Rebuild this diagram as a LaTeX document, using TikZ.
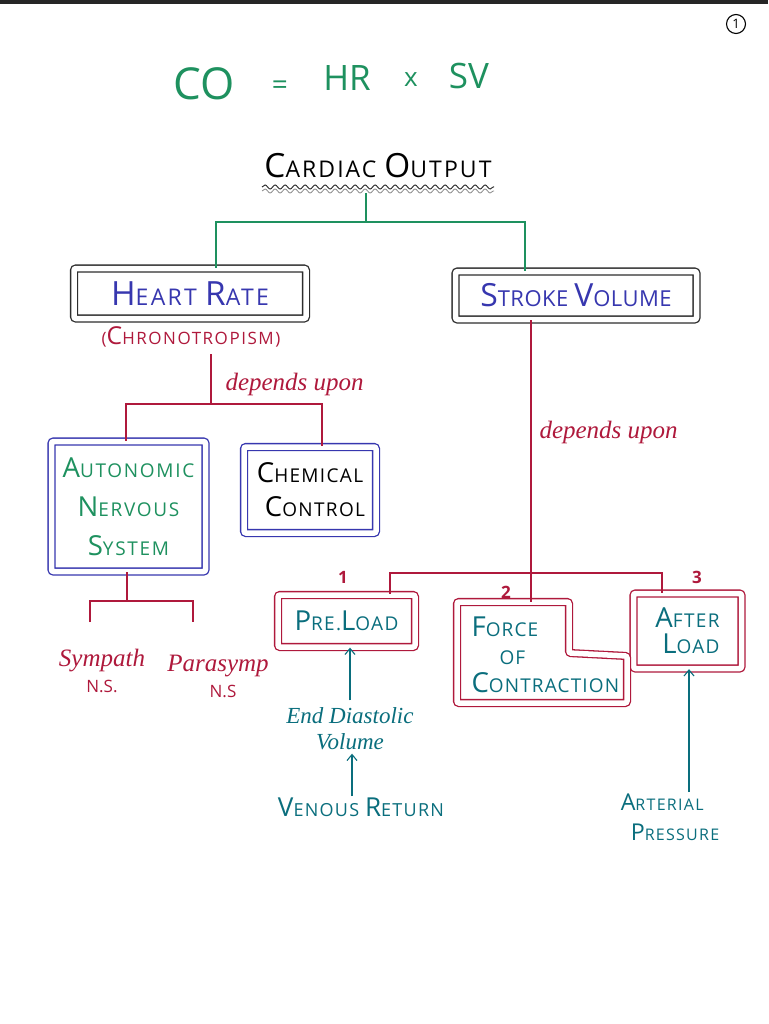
\documentclass[tikz,border=0pt]{standalone}
\usepackage{fontspec}
\setmainfont{Open Sans}
\newfontfamily\hand{Liberation Serif}
\usepackage{graphicx}
\usetikzlibrary{arrows.meta,decorations.pathmorphing}
\definecolor{cgreen}{RGB}{30,145,95}
\definecolor{cblue}{RGB}{55,55,175}
\definecolor{cred}{RGB}{175,25,60}
\definecolor{cteal}{RGB}{10,110,125}
\definecolor{cbox}{RGB}{45,45,45}
\newcommand\kap[1]{\scalebox{1.45}{#1}}
\tikzset{
  dbox/.style={draw=#1, double=white, double distance=5.5pt, line width=1.3pt, rounded corners=2pt, inner sep=0pt},
  gline/.style={draw=cgreen, line width=1.1pt},
  rline/.style={draw=cred, line width=1.1pt},
  tarrow/.style={draw=cteal, line width=1.1pt, -{Straight Barb[length=6pt,width=10pt]}},
  hw/.style={font=\hand\itshape\fontsize{25}{28}\selectfont, text=cred},
  num/.style={font=\bfseries\fontsize{17}{20}\selectfont, text=cred},
}
\begin{document}
\begin{tikzpicture}[x=1pt,y=-1pt]
\useasboundingbox (0,0) rectangle (768,1024);
\fill[white] (0,0) rectangle (768,1024);
\fill[black!85] (0,0) rectangle (768,4);

% page number
\node[draw=black, circle, line width=1.1pt, minimum size=19pt, inner sep=0pt, font=\fontsize{13}{13}\selectfont] (pg) at (736,24) {1};

% formula
\node[text=cgreen, font=\fontsize{44}{44}\selectfont] (co) at (204,84) {CO};
\node[text=cgreen, font=\fontsize{28}{28}\selectfont] (eq) at (280,88) {=};
\node[text=cgreen, font=\fontsize{35}{35}\selectfont] (hr) at (347,78) {HR};
\node[text=cgreen, font=\fontsize{26}{26}\selectfont] (xx) at (411,80) {x};
\node[text=cgreen, font=\fontsize{35}{35}\selectfont] (sv) at (469,76) {SV};

% title
\node[font=\fontsize{23}{26}\selectfont\addfontfeature{LetterSpace=9}] (title) at (378,166) {\kap{C}ARDIAC \kap{O}UTPUT};
\draw[black!80, line width=1pt, decorate, decoration={snake, amplitude=2pt, segment length=10pt}] (262,187) -- (494,187);
\draw[black!45, line width=0.8pt, decorate, decoration={snake, amplitude=2pt, segment length=10pt}] (262,191) -- (494,191);

% level 1 boxes
\node[dbox=cbox, minimum width=232pt, minimum height=50pt, text=cblue, font=\fontsize{23}{26}\selectfont\addfontfeature{LetterSpace=10}] (HR) at (190,293.5) {\kap{H}EART \kap{R}ATE};
\node[dbox=cbox, minimum width=241pt, minimum height=48pt, text=cblue, font=\fontsize{22}{26}\selectfont\addfontfeature{LetterSpace=2}] (SV) at (576,295.5) {\kap{S}TROKE \kap{V}OLUME};

\coordinate (w) at (366,193);
\coordinate (j1) at (366,222);
\draw[gline] (w) -- (j1);
\draw[gline] (j1) -| ([xshift=26pt]HR.north);
\draw[gline] (j1) -| ([xshift=-51pt]SV.north);

\node[text=cred, font=\fontsize{17}{20}\selectfont\addfontfeature{LetterSpace=9}] (chrono) at (191,337) {(\kap{C}HRONOTROPISM)};

% heart rate branch
\coordinate (d1) at (211,354);
\coordinate (j2) at (211,404);
\draw[rline] (d1) -- (j2);
\node[hw, anchor=west] (dep1) at (222,384) {depends upon};

\node[dbox=cblue, minimum width=154pt, minimum height=130pt, text=cgreen, align=center, font=\fontsize{19}{39}\selectfont\addfontfeature{LetterSpace=9}] (ANS) at (128.5,506.5) {\kap{A}UTONOMIC\\\kap{N}ERVOUS\\\kap{S}YSTEM};
\node[dbox=cblue, minimum width=132pt, minimum height=86pt, text=black, align=center, font=\fontsize{19}{34}\selectfont\addfontfeature{LetterSpace=7}] (CC) at (310,490) {\kap{C}HEMICAL\\\hspace*{10pt}\kap{C}ONTROL};
\draw[rline] (j2) -| ([xshift=-2.5pt]ANS.north);
\draw[rline] (j2) -| ([xshift=12pt]CC.north);

\coordinate (j3) at (127,601);
\coordinate (s1) at (90,622);
\coordinate (s2) at (193,622);
\draw[rline] ([xshift=-1.5pt]ANS.south) -- (j3);
\draw[rline] (s1) |- (j3) -| (s2);
\node[hw, align=center] (symp) at (102,671) {Sympath\\[-2pt]{\normalfont\fontsize{17}{20}\selectfont N.S.}};
\node[hw, align=center] (para) at (218,676) {Parasymp\\[-2pt]{\normalfont\fontsize{17}{20}\selectfont \hspace*{10pt}N.S}};

% stroke volume branch
\node[hw, anchor=west] (dep2) at (536,432) {depends upon};
\node[dbox=cred, minimum width=137pt, minimum height=52pt, text=cteal, font=\fontsize{19}{22}\selectfont\addfontfeature{LetterSpace=7}] (PL) at (346.5,621) {\kap{P}RE.\kap{L}OAD};
\node[dbox=cred, minimum width=108pt, minimum height=75pt, text=cteal, align=right, font=\fontsize{19}{26}\selectfont\addfontfeature{LetterSpace=7}] (AL) at (687.5,631) {\kap{A}FTER\\\kap{L}OAD};
\draw[dbox=cred] (457,602) -- (569,602) -- (569,653) -- (627,656) -- (627,703) -- (457,703) -- cycle;
\node[text=cteal, anchor=west, align=left, font=\fontsize{19}{28}\selectfont\addfontfeature{LetterSpace=6}] (FOC) at (468,655) {\kap{F}ORCE\\\hspace*{28pt}OF\\\kap{C}ONTRACTION};
\coordinate (focT) at (531,602);

\coordinate (j4) at (531,573);
\draw[rline] ([xshift=-45pt]SV.south) -- (j4) -- (focT);
\draw[rline] (j4) -| ([xshift=43.5pt]PL.north);
\draw[rline] (j4) -| ([xshift=-25.5pt]AL.north);

\node[num] (n1) at (343,577) {1};
\node[num] (n2) at (506,592) {2};
\node[num] (n3) at (697,577) {3};

% teal labels
\node[text=cteal, align=center, font=\hand\itshape\fontsize{23}{26}\selectfont] (EDV) at (350,729) {End Diastolic\\Volume};
\node[text=cteal, font=\fontsize{18}{22}\selectfont\addfontfeature{LetterSpace=7}] (VR) at (361,807) {\kap{V}ENOUS \kap{R}ETURN};
\node[text=cteal, align=left, font=\fontsize{16}{30}\selectfont\addfontfeature{LetterSpace=8}] (AP) at (670,817) {\kap{A}RTERIAL\\\hspace*{10pt}\kap{P}RESSURE};

\draw[tarrow] ([yshift=4pt]EDV.north) -- ([xshift=3.5pt]PL.south);
\draw[tarrow] ([xshift=-9pt,yshift=-2pt]VR.north) -- ([xshift=2pt]EDV.south);
\draw[tarrow] ([xshift=19pt,yshift=-2pt]AP.north) -- ([xshift=1.5pt]AL.south);
\end{tikzpicture}
\end{document}
